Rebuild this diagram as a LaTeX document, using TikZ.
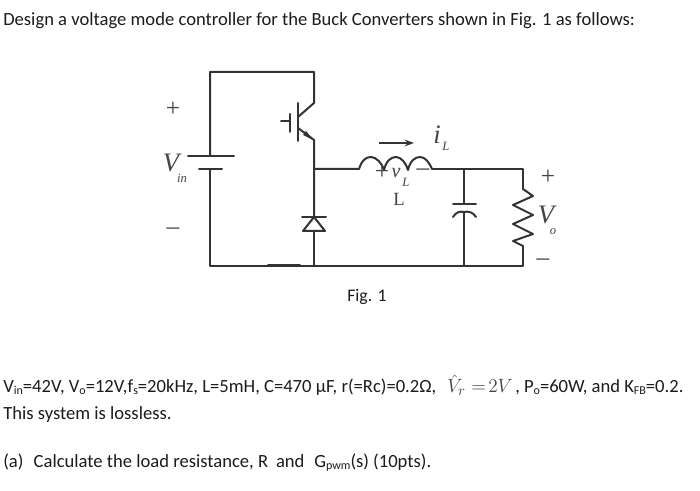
\documentclass[tikz,border=0pt]{standalone}
\usepackage{fontspec}
\setmainfont{Carlito}
\newfontfamily\mathserif{Liberation Serif}
\usetikzlibrary{arrows.meta}
\definecolor{wirecol}{HTML}{333333}
\definecolor{textcol}{HTML}{1c1c1c}
\definecolor{symcol}{HTML}{444444}
\tikzset{
  wire/.style={line width=1.5pt,draw=wirecol,line join=round,line cap=round},
  txt/.style={anchor=base west,inner sep=0pt,text=textcol,font=\fontsize{13.95}{14}\selectfont},
  sym/.style={inner sep=0pt,text=symcol,font=\mathserif\itshape\fontsize{20}{20}\selectfont},
  subs/.style={inner sep=0pt,text=symcol,font=\mathserif\itshape\fontsize{9.5}{10}\selectfont},
  pm/.style={inner sep=0pt,text=symcol,font=\mathserif\fontsize{19}{19}\selectfont},
}
\newcommand{\lowsub}[1]{\raisebox{-0.2ex}{\fontsize{9}{9}\selectfont #1}}
\begin{document}
\begin{tikzpicture}[x=0.75pt,y=-0.75pt]
\useasboundingbox (0,0) rectangle (700,491);
\fill[white] (0,0) rectangle (700,491);
% connection points
\coordinate (tl) at (210,72);
\coordinate (tr) at (314,72);
\coordinate (bl) at (210,266);
\coordinate (br) at (523,266);
\coordinate (batA) at (210,156);
\coordinate (batB) at (210,169);
\coordinate (swC) at (314,103);
\coordinate (swE) at (314,140);
\coordinate (sw) at (314,169);
\coordinate (dT) at (314,217);
\coordinate (dB) at (314,231);
\coordinate (dG) at (314,266);
\coordinate (lA) at (359,169);
\coordinate (lB) at (432,169);
\coordinate (cT) at (464,169);
\coordinate (cP) at (464,204);
\coordinate (cQ) at (464,212);
\coordinate (cG) at (464,266);
\coordinate (rT) at (523,169);
\coordinate (rA) at (523,189);
\coordinate (rB) at (523,246);
% wiring
\draw[wire] (batA) -- (tl) -- (tr) -- (swC) -- (298,117);
\draw[wire] (batB) -- (bl) -- (br) -- (rB);
\draw[wire] (298,128) -- (swE) -- (sw) -- (dT);
\draw[wire] (dB) -- (dG);
\draw[wire,line width=2pt] (268,265.5) -- (300,265.5);
% battery
\draw[wire] (188,156) -- (234,156);
\draw[wire] (199,169) -- (222,169);
% switch
\draw[wire] (298,103) -- (298,141);
\draw[wire] (290,114) -- (290,132);
\draw[wire] (281,121) -- (290,121);
\fill[wirecol] (314,140.5) -- (303,135) -- (306,131) -- cycle;
% diode
\draw[wire] (302,217) -- (326,217);
\draw[wire] (314,217) -- (303,231) -- (325,231) -- cycle;
% inductor
\draw[wire] (sw) -- (354,169) -- (lA)
  .. controls (362,160) and (366,157) .. (371,157)
  .. controls (376,157) and (382,163) .. (384,170)
  .. controls (386,161) and (391,157) .. (396,157)
  .. controls (401,157) and (406,163) .. (408,170)
  .. controls (410,161) and (415,157) .. (420,157)
  .. controls (425,157) and (429,162) .. (lB);
\draw[wire] (lB) -- (cT) -- (rT) -- (rA);
% capacitor
\draw[wire] (cT) -- (cP);
\draw[wire] (453,204) -- (476,204);
\draw[wire] (453,217) .. controls (456,212) and (460,211) .. (cQ) .. controls (468,211) and (473,212) .. (476,217);
\draw[wire] (cQ) -- (cG);
% resistor
\draw[wire] (rA) -- (533,196) -- (513,205) -- (533,215) -- (513,224) -- (533,234) -- (513,241) -- (rB);
% current arrow
\coordinate (arrA) at (379,143);
\coordinate (arrB) at (414,143);
\draw[line width=1.5pt,draw=wirecol,-{Stealth[length=7pt,width=5pt]}] (arrA) -- (arrB);
% symbols
\node[pm] (pin) at (173,109) {+};
\node[pm] (min) at (173,231) {\char"2013};
\node[sym] (vin) at (171,163) {V};
\node[subs] (vinS) at (182,178.5) {in};
\node[sym] (il) at (437,135) {i};
\node[subs] (ilS) at (446,146) {L};
\node[pm] (vlp) at (382,172) {+};
\node[sym,font=\mathserif\itshape\fontsize{15}{15}\selectfont] (vl) at (396,173) {v};
\node[subs] (vlS) at (406,182) {L};
\node[pm] (vlm) at (423,172) {\char"2013};
\node[pm,font=\mathserif\fontsize{14}{14}\selectfont] (ll) at (399,199) {L};
\node[pm] (vop) at (548,177) {+};
\node[pm] (vom) at (543,262) {\char"2013};
\node[sym] (vo) at (546,215) {V};
\node[subs] (voS) at (553,232) {o};
% text
\node[txt] (t1) at (3,26) {Design a voltage mode controller for the Buck Converters shown in Fig. 1 as follows:};
\node[txt,font=\fontsize{13.3}{14}\selectfont] (fig) at (347,302) {Fig. 1};
\node[txt] (t2) at (3,393) {V\lowsub{in}=42V, V\lowsub{o}=12V,f\lowsub{s}=20kHz, L=5mH, C=470 µF, r(=Rc)=0.2Ω,};
\node[inner sep=0pt,text=symcol,anchor=base west] (vr) at (447,393) {\fontsize{15}{15}\selectfont$\hat{V}_{r}$};
\node[inner sep=0pt,text=symcol,anchor=base west] (vrE) at (471,393) {\fontsize{15}{15}\selectfont$=$};
\node[inner sep=0pt,text=symcol,anchor=base west] (vrV) at (488,393) {\fontsize{15}{15}\selectfont$2V$};
\node[txt] (t3) at (515,393) {, P\lowsub{o}=60W, and K\lowsub{FB}=0.2.};
\node[txt] (t4) at (3,420) {This system is lossless.};
\node[txt] (t5) at (3,468) {(a)\hspace{0.55em}Calculate the load resistance, R\hspace{0.2em} and\hspace{0.3em} G\lowsub{pwm}(s) (10pts).};
\end{tikzpicture}
\end{document}
